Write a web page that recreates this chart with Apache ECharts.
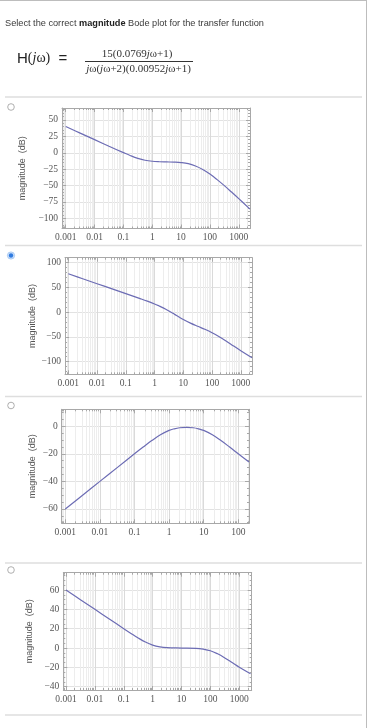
<!DOCTYPE html>
<html>
<head>
<meta charset="utf-8">
<script src="https://cdn.jsdelivr.net/npm/echarts@6/dist/echarts.min.js"></script>
<style>
  html, body { margin: 0; padding: 0; background: #fff; }
  #chart { width: 375px; height: 728px; }
</style>
</head>
<body>
<div id="chart"></div>
<script>
// decade tick labels (x is log10 of frequency)
const xTickExps = [-3, -2, -1, 0, 1, 2, 3]
const xTickLabels = ['0.001', '0.01', '0.1', '1', '10', '100', '1000']

// option 1
const freq1 = [0.001, 0.00316, 0.01, 0.0316, 0.1, 0.178, 0.316, 0.562, 1, 1.78, 3.16, 5.62, 10, 17.8, 31.6, 56.2, 100, 178, 316, 562, 1000, 2450]
const mag1 = [40, 30, 20, 10, 0.2, -4.5, -8.5, -11.4, -13, -13.7, -14, -14.3, -15, -16.7, -20.3, -25.5, -32.5, -41, -50.2, -60, -70, -86]
const yTicks1 = [50, 25, 0, -25, -50, -75, -100]

// option 2 (selected)
const freq2 = [0.001, 0.00316, 0.01, 0.0316, 0.1, 0.316, 0.562, 1, 1.41, 2, 3.16, 5, 7.07, 10, 17.8, 31.6, 56.2, 100, 178, 316, 562, 1000, 2450]
const mag2 = [77.5, 67.5, 57.5, 47.5, 37.5, 27.4, 22.2, 16.6, 12.8, 8.6, 2.3, -4.5, -9.7, -14.7, -22.1, -28.5, -34.6, -41.5, -49.6, -58.6, -68.3, -77.8, -92]
const yTicks2 = [100, 50, 0, -50, -100]

// option 3
const freq3 = [0.001, 0.00316, 0.01, 0.0316, 0.1, 0.178, 0.316, 0.562, 1, 1.41, 2, 3.16, 5, 7.07, 10, 17.8, 31.6, 56.2, 100, 204]
const mag3 = [-60, -50, -40, -30, -20, -15.1, -10.4, -6.2, -3, -1.85, -1.1, -0.8, -1.1, -1.85, -3, -6.2, -10.4, -15.1, -20, -26]
const yTicks3 = [0, -20, -40, -60]

// option 4
const freq4 = [0.001, 0.00316, 0.01, 0.0316, 0.1, 0.178, 0.316, 0.562, 1, 1.78, 3.16, 10, 31.6, 56.2, 100, 178, 316, 562, 1000, 2450]
const mag4 = [60, 50, 40, 30, 20, 15.1, 10.4, 6.2, 3, 1.2, 0.4, 0, -0.4, -1.2, -2.8, -6, -10.2, -15, -19.8, -26.5]
const yTicks4 = [60, 40, 20, 0, -20, -40]

const plots = [
  { freq: freq1, mag: mag1, yTicks: yTicks1, yMinorStep: 5 },
  { freq: freq2, mag: mag2, yTicks: yTicks2, yMinorStep: 10 },
  { freq: freq3, mag: mag3, yTicks: yTicks3, yMinorStep: 5 },
  { freq: freq4, mag: mag4, yTicks: yTicks4, yMinorStep: 5 }
]

// layout of each plot frame
const layouts = [
  { left: 62, top: 108, width: 188, height: 120.5, xMin: -3.13, xMax: 3.39, yMin: -115.6, yMax: 68.3, radioY: 107 },
  { left: 65, top: 257.7, width: 187, height: 116.6, xMin: -3.115, xMax: 3.39, yMin: -125.5, yMax: 110, radioY: 255.5 },
  { left: 61.7, top: 409.3, width: 187.3, height: 114, xMin: -3.104, xMax: 2.31, yMin: -70.4, yMax: 12.3, radioY: 405.5 },
  { left: 63.3, top: 572.7, width: 188.4, height: 117.3, xMin: -3.093, xMax: 3.43, yMin: -43.4, yMax: 77.9, radioY: 570 }
]

const frameColor = '#a8a8a8'
const lineColor = '#6c6cb4'
const labelStyle = { fontFamily: 'Liberation Serif', fontSize: 9.5, color: '#555' }

function minorLogTicks(min, max) {
  const out = []
  for (let e = -4; e <= 3; e++) {
    for (let k = 2; k <= 9; k++) {
      const v = e + Math.log10(k)
      if (v > min && v < max) out.push(v)
    }
  }
  return out
}

function minorLinTicks(min, max, step, majors) {
  const out = []
  for (let v = Math.ceil(min / step) * step; v <= max; v += step) {
    if (!majors.includes(v)) out.push(v)
  }
  return out
}

const grid = []
const xAxis = []
const yAxis = []
const series = []

plots.forEach((p, i) => {
  const L = layouts[i]
  grid.push({ left: L.left, top: L.top, width: L.width, height: L.height, containLabel: false })

  const xMaj = xTickExps.filter(v => v >= L.xMin && v <= L.xMax)
  const xMin = minorLogTicks(L.xMin, L.xMax)
  const yMaj = p.yTicks
  const yMin = minorLinTicks(L.yMin, L.yMax, p.yMinorStep, yMaj)

  const baseX = { gridIndex: i, type: 'value', min: L.xMin, max: L.xMax }
  xAxis.push(
    {
      ...baseX, position: 'bottom',
      axisLine: { show: true, onZero: false, lineStyle: { color: frameColor, width: 1 } },
      axisTick: { show: true, inside: true, length: 4, customValues: xMaj, lineStyle: { color: frameColor } },
      axisLabel: {
        show: true, customValues: xMaj, margin: 4, ...labelStyle,
        formatter: v => xTickLabels[Math.round(v) + 3]
      },
      splitLine: { show: true, lineStyle: { color: '#dadada', width: 1 } }
    },
    {
      ...baseX, position: 'bottom',
      axisLine: { show: false, onZero: false },
      axisTick: { show: true, inside: true, length: 2, customValues: xMin, lineStyle: { color: frameColor } },
      axisLabel: { show: false },
      splitLine: { show: true, lineStyle: { color: '#ededed', width: 1 } }
    },
    {
      ...baseX, position: 'top',
      axisLine: { show: true, onZero: false, lineStyle: { color: frameColor, width: 1 } },
      axisTick: { show: true, inside: true, length: 4, customValues: xMaj, lineStyle: { color: frameColor } },
      axisLabel: { show: false },
      splitLine: { show: false }
    },
    {
      ...baseX, position: 'top',
      axisLine: { show: false, onZero: false },
      axisTick: { show: true, inside: true, length: 2, customValues: xMin, lineStyle: { color: frameColor } },
      axisLabel: { show: false },
      splitLine: { show: false }
    }
  )

  const baseY = { gridIndex: i, type: 'value', min: L.yMin, max: L.yMax }
  yAxis.push(
    {
      ...baseY, position: 'left',
      name: 'magnitude  (dB)', nameLocation: 'middle', nameGap: 25,
      nameTextStyle: { fontFamily: 'Liberation Sans', fontSize: 9, color: '#555' },
      axisLine: { show: true, onZero: false, lineStyle: { color: frameColor, width: 1 } },
      axisTick: { show: true, inside: true, length: 4, customValues: yMaj, lineStyle: { color: frameColor } },
      axisLabel: {
        show: true, customValues: yMaj, margin: 4, ...labelStyle,
        formatter: v => (v < 0 ? '\u2212' + (-v) : String(v))
      },
      splitLine: { show: true, lineStyle: { color: '#e2e2e2', width: 1 } }
    },
    {
      ...baseY, position: 'left',
      axisLine: { show: false, onZero: false },
      axisTick: { show: true, inside: true, length: 2, customValues: yMin, lineStyle: { color: frameColor } },
      axisLabel: { show: false },
      splitLine: { show: false }
    },
    {
      ...baseY, position: 'right',
      axisLine: { show: true, onZero: false, lineStyle: { color: frameColor, width: 1 } },
      axisTick: { show: true, inside: true, length: 4, customValues: yMaj, lineStyle: { color: frameColor } },
      axisLabel: { show: false },
      splitLine: { show: false }
    },
    {
      ...baseY, position: 'right',
      axisLine: { show: false, onZero: false },
      axisTick: { show: true, inside: true, length: 2, customValues: yMin, lineStyle: { color: frameColor } },
      axisLabel: { show: false },
      splitLine: { show: false }
    }
  )

  series.push({
    type: 'line',
    xAxisIndex: i * 4,
    yAxisIndex: i * 4,
    data: p.freq.map((w, j) => [Math.log10(w), p.mag[j]]),
    showSymbol: false,
    smooth: 0.4,
    lineStyle: { color: lineColor, width: 1.2 },
    silent: true,
    z: 5
  })
})

// page furniture: question text, formula, separators, radio buttons
const graphic = [
  { type: 'line', shape: { x1: 0, y1: 0.5, x2: 366, y2: 0.5 }, style: { stroke: '#bdbdbd', lineWidth: 1 } },
  { type: 'line', shape: { x1: 366.5, y1: 0, x2: 366.5, y2: 728 }, style: { stroke: '#bdbdbd', lineWidth: 1 } },
  {
    type: 'text', left: 5, top: 19,
    style: {
      text: '{n|Select the correct }{b|magnitude}{n| Bode plot for the transfer function}',
      rich: {
        n: { fontFamily: 'Liberation Sans', fontSize: 9.2, fill: '#3a3a3a' },
        b: { fontFamily: 'Liberation Sans', fontSize: 9.2, fontWeight: 'bold', fill: '#222' }
      }
    }
  },
  {
    type: 'text', left: 17, top: 51,
    style: {
      text: '{h|H}{p|(}{i|j}{p|ω)}{e|  =}',
      rich: {
        h: { fontFamily: 'Liberation Sans', fontSize: 15, fill: '#222' },
        p: { fontFamily: 'Liberation Serif', fontSize: 14, fill: '#222' },
        i: { fontFamily: 'Liberation Serif', fontSize: 14, fontStyle: 'italic', fill: '#222' },
        e: { fontFamily: 'Liberation Sans', fontSize: 15, fill: '#222' }
      }
    }
  },
  {
    type: 'text', x: 137, y: 54,
    style: {
      text: '{a|15(0.0769}{i|j}{a|ω+1)}',
      align: 'center', verticalAlign: 'middle',
      rich: {
        a: { fontFamily: 'Liberation Serif', fontSize: 11, fill: '#333' },
        i: { fontFamily: 'Liberation Serif', fontSize: 11, fontStyle: 'italic', fill: '#333' }
      }
    }
  },
  { type: 'line', shape: { x1: 85, y1: 61.5, x2: 193, y2: 61.5 }, style: { stroke: '#333', lineWidth: 1 } },
  {
    type: 'text', x: 138.5, y: 69.5,
    style: {
      text: '{i|j}{a|ω(}{i|j}{a|ω+2)(0.00952}{i|j}{a|ω+1)}',
      align: 'center', verticalAlign: 'middle',
      rich: {
        a: { fontFamily: 'Liberation Serif', fontSize: 11, fill: '#333' },
        i: { fontFamily: 'Liberation Serif', fontSize: 11, fontStyle: 'italic', fill: '#333' }
      }
    }
  }
]

const separatorYs = [97, 245.5, 396.5, 563, 715]
separatorYs.forEach(y => {
  graphic.push({ type: 'line', shape: { x1: 5, y1: y, x2: 362, y2: y }, style: { stroke: '#dedede', lineWidth: 1.5 } })
})

layouts.forEach((L, i) => {
  if (i === 1) {
    graphic.push({ type: 'circle', shape: { cx: 11, cy: L.radioY, r: 3.6 }, style: { fill: '#cfe2fb', stroke: '#9cc1f0', lineWidth: 0.8 } })
    graphic.push({ type: 'circle', shape: { cx: 11, cy: L.radioY, r: 2.2 }, style: { fill: '#2f7be0' } })
  } else {
    graphic.push({ type: 'circle', shape: { cx: 11, cy: L.radioY, r: 3.3 }, style: { fill: '#fff', stroke: '#9a9a9a', lineWidth: 0.8 } })
  }
})

const chart = echarts.init(document.getElementById('chart'))
chart.setOption({
  animation: false,
  backgroundColor: '#fff',
  grid,
  xAxis,
  yAxis,
  series,
  graphic
})
</script>
</body>
</html>
